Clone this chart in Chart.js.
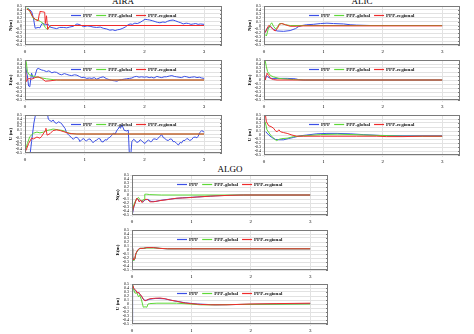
<!DOCTYPE html>
<html>
<head>
<meta charset="utf-8">
<script src="https://cdn.jsdelivr.net/npm/chart.js@4.4.1/dist/chart.umd.min.js"></script>
<style>
  body { margin: 0; background: #fff; width: 474px; height: 334px; position: relative; overflow: hidden; }
  canvas { position: absolute; }
  .ttl { position: absolute; font-family: "Liberation Serif", serif; font-size: 9px; color: #000; transform: translateX(-50%); line-height: 1; }
</style>
</head>
<body>
<div class="ttl" style="left:123px; top:-3px">AIRA</div>
<div class="ttl" style="left:362px; top:-3px">ALIC</div>
<div class="ttl" style="left:230px; top:165px">ALGO</div>

<canvas id="airaN" width="226" height="54" style="left:0; top:0"></canvas>
<canvas id="airaE" width="226" height="55" style="left:0; top:54px"></canvas>
<canvas id="airaU" width="226" height="53" style="left:0; top:109px"></canvas>
<canvas id="alicN" width="225" height="54" style="left:239px; top:0"></canvas>
<canvas id="alicE" width="225" height="55" style="left:239px; top:54px"></canvas>
<canvas id="alicU" width="225" height="55" style="left:239px; top:109px"></canvas>
<canvas id="algoN" width="225" height="55" style="left:107px; top:169px"></canvas>
<canvas id="algoE" width="225" height="55" style="left:107px; top:224px"></canvas>
<canvas id="algoU" width="225" height="55" style="left:107px; top:278px"></canvas>

<script>
// time axis (h) and y ticks
const xTicks = [0, 1, 2, 3];
const yTicks = [0.5, 0.4, 0.3, 0.2, 0.1, 0, -0.1, -0.2, -0.3, -0.4, -0.5];
const seriesNames = ['PPP', 'PPP-global', 'PPP-regional'];

// ---- AIRA N ----
const airaN_pppT = [0.05,0.11,0.14,0.17,0.22,0.25,0.28,0.31,0.34,0.39,0.42,0.47,0.53,0.58,0.64,0.7,0.75,0.81,0.87,0.92,0.98,1.04,1.09,1.14,1.2,1.26,1.31,1.37,1.42,1.47,1.51,1.55,1.59,1.64,1.68,1.72,1.76,1.8,1.84,1.88,1.93,1.97,2.01,2.05,2.09,2.14,2.18,2.22,2.26,2.31,2.35,2.39,2.43,2.48,2.52,2.57,2.61,2.65,2.7,2.74,2.78,2.82,2.86,2.9,2.94,3.0];
const airaN_ppp = [0.44,0.36,0.2,-0.07,-0.05,-0.06,0.04,0.05,0.02,0.03,-0.04,-0.06,-0.08,-0.05,-0.05,-0.06,-0.04,-0.02,0.04,0.02,-0.03,-0.01,-0.02,-0.04,-0.05,-0.04,-0.07,-0.09,-0.12,-0.11,-0.13,-0.11,-0.1,-0.07,-0.04,0.01,0.04,0.03,0.06,0.05,0.08,0.12,0.16,0.15,0.14,0.12,0.1,0.08,0.07,0.09,0.08,0.11,0.13,0.14,0.12,0.09,0.07,0.04,0.06,0.05,0.03,0.04,0.05,0.03,0.04,0.03];
const airaN_globT = [0.03,0.06,0.1,0.14,0.18,0.22,0.26,0.3,0.34,0.37,0.4,0.43,0.5,1.0,2.0,3.0];
const airaN_glob = [0.45,0.42,0.3,0.18,0.15,0.14,0.1,0.06,-0.05,-0.1,-0.06,0.0,0.0,0.0,0.0,0.0];
const airaN_regT = [0.03,0.08,0.13,0.18,0.22,0.24,0.25,0.3,0.33,0.34,0.36,0.38,0.4,0.43,0.5,3.0];
const airaN_reg = [0.42,0.38,0.22,0.15,0.12,0.3,0.36,0.35,0.34,0.05,0.25,-0.1,-0.04,0.0,0.0,0.0];

// ---- AIRA E ----
const airaE_pppT = [0.01,0.04,0.06,0.08,0.11,0.14,0.17,0.2,0.22,0.25,0.28,0.31,0.36,0.4,0.45,0.49,0.53,0.57,0.61,0.66,0.7,0.74,0.78,0.83,0.87,0.91,0.95,0.99,1.03,1.08,1.12,1.16,1.2,1.26,1.31,1.37,1.41,1.45,1.5,1.54,1.58,1.62,1.66,1.7,1.75,1.79,1.83,1.87,1.91,1.95,2.0,2.04,2.08,2.12,2.16,2.21,2.25,2.29,2.33,2.37,2.42,2.46,2.5,2.54,2.58,2.62,2.67,2.71,2.75,2.79,2.84,2.88,2.92,2.96,3.0];
const airaE_ppp = [0.35,0.1,-0.15,-0.17,0.17,0.04,0.12,0.27,0.29,0.27,0.25,0.24,0.21,0.23,0.18,0.2,0.19,0.15,0.13,0.16,0.14,0.12,0.11,0.13,0.12,0.09,0.06,0.07,0.04,0.05,0.04,0.06,0.02,0.06,0.08,0.03,0.01,-0.01,-0.02,-0.03,0.0,0.01,0.02,0.03,0.04,0.05,0.08,0.09,0.07,0.08,0.07,0.08,0.06,0.07,0.05,0.09,0.07,0.06,0.08,0.08,0.1,0.11,0.09,0.08,0.07,0.06,0.09,0.08,0.06,0.07,0.08,0.06,0.07,0.05,0.04];
const airaE_globT = [0.01,0.02,0.04,0.07,0.11,0.17,0.25,0.36,0.47,0.55,3.0];
const airaE_glob = [0.48,0.46,0.21,0.13,0.11,0.08,0.06,0.03,0.01,0.0,0.0];
const airaE_regT = [0.01,0.02,0.06,0.11,0.17,0.22,0.28,0.34,0.42,0.53,0.6,3.0];
const airaE_reg = [0.25,-0.04,0.04,0.02,0.06,0.08,0.04,-0.03,-0.02,0.0,0.0,0.0];

// ---- AIRA U ----
const airaU_pppT = [0.0,0.08,0.11,0.15,0.2,0.22,0.34,0.38,0.39,0.42,0.45,0.47,0.5,0.53,0.56,0.59,0.62,0.64,0.67,0.7,0.73,0.75,0.78,0.81,0.84,0.87,0.9,0.92,0.95,0.98,1.01,1.03,1.06,1.09,1.12,1.14,1.17,1.2,1.23,1.26,1.28,1.31,1.34,1.37,1.4,1.42,1.45,1.48,1.51,1.54,1.56,1.58,1.6,1.62,1.64,1.66,1.7,1.73,1.75,1.77,1.79,1.82,1.84,1.87,1.9,1.93,1.95,1.98,2.01,2.04,2.07,2.1,2.12,2.15,2.18,2.21,2.23,2.26,2.29,2.32,2.34,2.37,2.4,2.43,2.46,2.48,2.51,2.54,2.57,2.6,2.62,2.65,2.68,2.71,2.73,2.76,2.79,2.82,2.85,2.88,2.9,2.93,2.96,3.0];
const airaU_ppp = [-0.6,-0.6,-0.2,0.3,0.7,0.65,0.6,0.5,0.39,0.35,0.33,0.37,0.3,0.28,0.32,0.3,0.26,0.21,0.15,0.02,-0.02,-0.05,-0.1,-0.14,-0.09,-0.09,-0.13,-0.2,-0.15,-0.12,-0.17,-0.18,-0.14,-0.13,-0.19,-0.23,-0.18,-0.16,-0.12,-0.13,-0.2,-0.21,-0.15,-0.16,-0.1,-0.09,-0.04,0.02,0.0,0.1,0.13,0.19,0.15,0.24,0.18,0.1,0.08,0.1,-0.6,-0.6,-0.2,-0.14,-0.16,-0.22,-0.21,-0.15,-0.17,-0.22,-0.25,-0.19,-0.16,-0.2,-0.2,-0.13,-0.13,-0.15,-0.11,-0.06,-0.02,-0.1,-0.11,-0.16,-0.17,-0.13,-0.14,-0.2,-0.2,-0.25,-0.29,-0.22,-0.24,-0.17,-0.17,-0.12,-0.13,-0.17,-0.15,-0.09,-0.08,-0.1,-0.06,0.04,0.09,0.05];
const airaU_globT = [0.0,0.04,0.08,0.14,0.2,0.25,0.31,0.36,0.42,0.47,0.56,0.64,0.7,0.78,0.87,3.0];
const airaU_glob = [-0.46,-0.25,-0.07,0.02,0.05,0.03,0.05,0.09,0.11,0.13,0.11,0.09,0.04,0.01,0.0,0.0];
const airaU_regT = [0.0,0.02,0.06,0.11,0.14,0.2,0.25,0.28,0.34,0.35,0.37,0.42,0.47,0.53,0.59,0.67,0.75,0.87,3.0];
const airaU_reg = [-0.46,-0.42,-0.25,-0.11,-0.13,-0.08,-0.11,-0.06,0.09,0.15,-0.03,0.01,0.09,0.11,0.09,0.05,0.01,0.0,0.0];

// ---- ALIC N ----
const alicN_pppT = [0.02,0.06,0.11,0.16,0.22,0.33,0.44,0.53,0.58,0.64,0.72,0.83,0.95,1.06,1.17,1.34,1.45,1.56,1.79,3.0];
const alicN_ppp = [-0.18,-0.06,-0.02,-0.1,-0.14,-0.15,-0.13,-0.08,-0.03,0.0,0.02,0.03,0.05,0.06,0.05,0.04,0.02,0.01,0.0,0.0];
const alicN_globT = [0.02,0.04,0.07,0.11,0.13,0.16,0.19,0.22,0.26,0.3,0.36,0.44,3.0];
const alicN_glob = [-0.23,-0.27,-0.1,0.03,0.07,-0.02,-0.08,-0.06,0.05,0.05,0.02,0.0,0.0];
const alicN_regT = [0.02,0.05,0.08,0.11,0.15,0.19,0.23,0.26,0.3,0.36,0.44,0.55,0.67,1.0,3.0];
const alicN_reg = [-0.18,-0.08,0.0,-0.03,-0.1,-0.14,-0.06,0.03,0.05,0.02,-0.02,-0.02,-0.01,-0.01,-0.01];

// ---- ALIC E ----
const alicE_pppT = [0.02,0.04,0.06,0.11,0.22,0.39,0.53,0.58,0.67,3.0];
const alicE_ppp = [0.0,0.11,0.08,0.04,0.04,0.04,0.03,0.01,0.0,0.0];
const alicE_globT = [0.02,0.04,0.06,0.11,0.16,0.25,0.33,0.5,0.7,3.0];
const alicE_glob = [0.48,0.33,0.21,0.11,0.08,0.04,0.03,0.01,0.0,0.0];
const alicE_regT = [0.02,0.04,0.05,0.08,0.11,0.16,0.22,3.0];
const alicE_reg = [0.0,0.12,0.17,0.11,0.04,0.01,0.0,0.0];

// ---- ALIC U ----
const alicU_pppT = [0.03,0.08,0.13,0.19,0.25,0.33,0.41,0.5,0.61,0.72,0.89,1.06,1.23,1.45,1.67,1.95,2.34,3.0];
const alicU_ppp = [0.08,0.0,-0.06,-0.11,-0.12,-0.12,-0.09,-0.06,-0.02,0.0,0.03,0.04,0.04,0.03,0.01,-0.01,-0.02,-0.02];
const alicU_globT = [0.02,0.05,0.11,0.16,0.21,0.25,0.3,0.39,0.5,0.67,0.95,1.23,1.5,1.9,2.34,3.0];
const alicU_glob = [0.33,0.13,0.0,-0.08,-0.14,-0.11,-0.09,-0.08,-0.04,-0.02,0.01,0.02,0.01,-0.01,-0.03,-0.03];
const alicU_regT = [0.02,0.04,0.08,0.12,0.16,0.19,0.22,0.25,0.28,0.33,0.39,0.47,0.55,0.67,0.95,1.23,1.56,1.9,2.06,2.34,2.67,3.0];
const alicU_reg = [0.55,0.33,0.23,0.21,0.17,0.11,0.08,0.13,0.08,0.06,0.04,0.0,-0.03,-0.03,-0.03,-0.03,-0.03,-0.03,-0.04,-0.04,-0.03,-0.03];

// ---- ALGO N ----
const algoN_pppT = [0.01,0.03,0.06,0.09,0.12,0.15,0.18,0.22,0.27,0.32,0.4,0.5,0.65,0.85,1.1,1.4,1.8,3.0];
const algoN_ppp = [-0.45,-0.3,-0.15,-0.08,-0.16,-0.13,-0.18,-0.12,-0.11,-0.16,-0.16,-0.13,-0.1,-0.07,-0.05,-0.02,0.0,0.0];
const algoN_globT = [0.01,0.03,0.07,0.11,0.13,0.16,0.19,0.21,0.215,0.25,0.3,0.5,3.0];
const algoN_glob = [-0.38,-0.25,-0.11,-0.06,-0.11,-0.17,-0.11,-0.12,0.02,0.02,0.01,0.0,0.0];
const algoN_regT = [0.01,0.02,0.05,0.08,0.1,0.12,0.15,0.17,0.2,0.22,0.26,0.3,0.36,0.47,0.58,0.75,0.92,1.09,1.32,1.6,1.88,3.0];
const algoN_reg = [-0.42,-0.33,-0.21,-0.08,-0.11,-0.17,-0.13,-0.19,-0.14,-0.11,-0.11,-0.17,-0.17,-0.14,-0.12,-0.08,-0.07,-0.05,-0.03,-0.01,0.0,0.0];

// ---- ALGO E ----
const algoE_pppT = [0.0,0.01,0.03,0.05,0.06,0.08,0.11,0.13,0.19,0.25,0.36,0.47,0.6,3.0];
const algoE_ppp = [0.04,-0.18,-0.26,-0.21,-0.12,-0.05,0.02,0.04,0.04,0.06,0.06,0.04,0.03,0.03];
const algoE_globT = [0.0,0.01,0.03,0.05,0.07,0.1,0.14,0.25,0.4,0.6,3.0];
const algoE_glob = [0.03,-0.2,-0.27,-0.2,-0.08,0.0,0.04,0.05,0.05,0.03,0.03];
const algoE_regT = [0.0,0.01,0.03,0.05,0.06,0.08,0.11,0.13,0.19,0.25,0.36,0.47,0.6,3.0];
const algoE_reg = [0.04,-0.17,-0.25,-0.21,-0.11,-0.04,0.02,0.04,0.04,0.06,0.06,0.04,0.03,0.03];

// ---- ALGO U ----
const algoU_pppT = [0.0,0.01,0.04,0.08,0.12,0.16,0.2,0.24,0.3,0.4,0.55,0.7,0.9,1.1,1.4,1.9,3.0];
const algoU_ppp = [-0.45,0.45,0.36,0.3,0.27,0.19,0.1,0.09,0.12,0.14,0.13,0.08,0.03,0.0,-0.02,-0.01,0.01];
const algoU_globT = [0.01,0.02,0.05,0.08,0.11,0.13,0.16,0.19,0.22,0.25,0.27,0.3,0.42,0.75,0.98,1.15,1.43,1.88,3.0];
const algoU_glob = [0.5,0.39,0.27,0.28,0.18,0.22,0.1,-0.08,-0.07,-0.08,0.0,0.01,0.02,0.02,0.0,-0.02,-0.02,-0.01,0.0];
const algoU_regT = [0.0,0.005,0.03,0.07,0.09,0.11,0.13,0.16,0.19,0.22,0.25,0.28,0.3,0.36,0.47,0.56,0.64,0.75,0.87,0.98,1.15,1.32,1.6,1.99,2.44,3.0];
const algoU_reg = [-0.5,0.5,0.39,0.33,0.27,0.3,0.25,0.2,0.12,0.08,0.1,0.12,0.13,0.14,0.15,0.13,0.1,0.07,0.03,0.01,-0.01,-0.02,-0.02,0.0,0.01,0.02];

const BLUE = '#3b4fe6';
const GREEN = '#5fd838';
const RED = '#ee2b2b';
const SERIF = '"Liberation Serif", "DejaVu Serif", serif';

function pts(t, v) {
  return t.map((x, i) => ({ x: x, y: v[i] }));
}

// box round the plot area plus inner ticks on the right, like matlab
const boxFrame = {
  id: 'boxFrame',
  afterDatasetsDraw(chart) {
    const { ctx, chartArea: a, scales } = chart;
    ctx.save();
    ctx.strokeStyle = '#7a7a7a';
    ctx.lineWidth = 1;
    ctx.strokeRect(a.left + 0.5, a.top + 0.5, a.right - a.left - 1, a.bottom - a.top - 1);
    yTicks.forEach(v => {
      const py = Math.round(scales.y.getPixelForValue(v)) + 0.5;
      ctx.beginPath();
      ctx.moveTo(a.right, py);
      ctx.lineTo(a.right - 2, py);
      ctx.stroke();
    });
    ctx.restore();
  }
};

// one-row legend inside the top of the plot area (chart.js puts 'chartArea' legends in a column)
const innerLegend = {
  id: 'innerLegend',
  afterDatasetsDraw(chart) {
    const { ctx, chartArea: a } = chart;
    ctx.save();
    ctx.font = 'bold 5px ' + SERIF;
    const items = chart.data.datasets.map(d => ({
      label: d.label,
      color: d.borderColor,
      w: 10 + 2 + ctx.measureText(d.label).width
    }));
    const gap = 4;
    const total = items.reduce((s, it) => s + it.w, 0) + gap * (items.length - 1);
    let x = Math.round((a.left + a.right) / 2 - total / 2);
    const y = Math.round(a.top + 9) + 0.5;
    ctx.textBaseline = 'middle';
    items.forEach(it => {
      ctx.strokeStyle = it.color;
      ctx.lineWidth = 1.2;
      ctx.beginPath();
      ctx.moveTo(x, y);
      ctx.lineTo(x + 10, y);
      ctx.stroke();
      ctx.fillStyle = '#111';
      ctx.fillText(it.label, x + 12, y);
      x += it.w + gap;
    });
    ctx.restore();
  }
};

function makePlot(id, yTitle, ppp, glob, reg) {
  const ctx = document.getElementById(id).getContext('2d');
  const colors = [BLUE, GREEN, RED];
  const sets = [ppp, glob, reg];
  return new Chart(ctx, {
    type: 'line',
    data: {
      datasets: sets.map((d, i) => ({
        label: seriesNames[i],
        data: d,
        borderColor: colors[i],
        backgroundColor: colors[i],
        borderWidth: 1,
        pointRadius: 0,
        tension: 0,
        fill: false,
        order: 3 - i // red drawn on top
      }))
    },
    options: {
      responsive: false,
      animation: false,
      layout: { padding: { top: 6, right: 4, left: 8, bottom: 0 } },
      plugins: {
        tooltip: { enabled: false },
        legend: { display: false }
      },
      scales: {
        x: {
          type: 'linear',
          min: 0,
          max: 3.3,
          afterBuildTicks: s => { s.ticks = xTicks.map(v => ({ value: v })); },
          ticks: { color: '#000', font: { family: SERIF, size: 5 }, padding: 2, maxRotation: 0 },
          grid: { color: '#e2e2e2', tickLength: 2 },
          border: { display: false },
          afterFit: s => { s.height = 9; }
        },
        y: {
          min: -0.5,
          max: 0.5,
          afterBuildTicks: s => { s.ticks = yTicks.map(v => ({ value: v })); },
          ticks: {
            color: '#000',
            autoSkip: false,
            font: { family: SERIF, size: 4 },
            padding: 1,
            callback: v => +v.toFixed(1)
          },
          grid: { color: '#e2e2e2', tickLength: 2 },
          border: { display: false },
          title: { display: true, text: yTitle, color: '#000', font: { family: SERIF, size: 5, weight: 'bold' }, padding: 0 },
          afterFit: s => { s.width = 17; }
        }
      }
    },
    plugins: [boxFrame, innerLegend]
  });
}

makePlot('airaN', 'N(m)', pts(airaN_pppT, airaN_ppp), pts(airaN_globT, airaN_glob), pts(airaN_regT, airaN_reg));
makePlot('airaE', 'E(m)', pts(airaE_pppT, airaE_ppp), pts(airaE_globT, airaE_glob), pts(airaE_regT, airaE_reg));
makePlot('airaU', 'U (m)', pts(airaU_pppT, airaU_ppp), pts(airaU_globT, airaU_glob), pts(airaU_regT, airaU_reg));
makePlot('alicN', 'N(m)', pts(alicN_pppT, alicN_ppp), pts(alicN_globT, alicN_glob), pts(alicN_regT, alicN_reg));
makePlot('alicE', 'E(m)', pts(alicE_pppT, alicE_ppp), pts(alicE_globT, alicE_glob), pts(alicE_regT, alicE_reg));
makePlot('alicU', 'U (m)', pts(alicU_pppT, alicU_ppp), pts(alicU_globT, alicU_glob), pts(alicU_regT, alicU_reg));
makePlot('algoN', 'N(m)', pts(algoN_pppT, algoN_ppp), pts(algoN_globT, algoN_glob), pts(algoN_regT, algoN_reg));
makePlot('algoE', 'E(m)', pts(algoE_pppT, algoE_ppp), pts(algoE_globT, algoE_glob), pts(algoE_regT, algoE_reg));
makePlot('algoU', 'U (m)', pts(algoU_pppT, algoU_ppp), pts(algoU_globT, algoU_glob), pts(algoU_regT, algoU_reg));
</script>
</body>
</html>
